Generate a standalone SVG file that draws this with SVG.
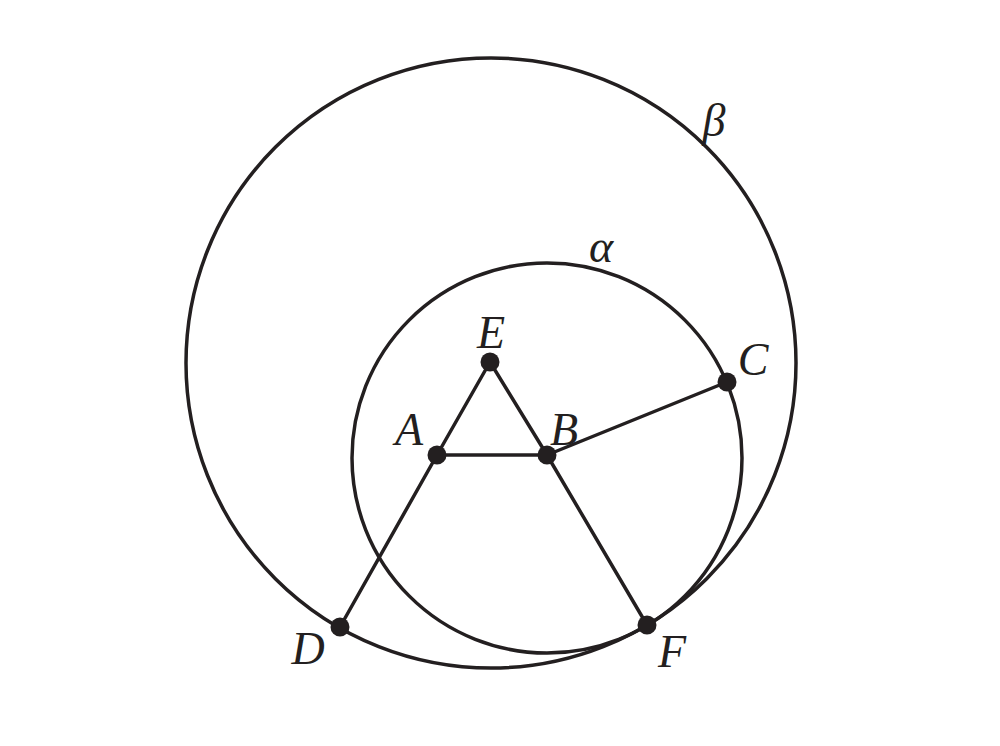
<svg xmlns="http://www.w3.org/2000/svg" width="1000" height="746" viewBox="0 0 1000 746">
<style>
.c{fill:none;stroke:#231f20;stroke-width:3.5}
.l{stroke:#231f20;stroke-width:3.5;stroke-linecap:round}
.p{fill:#231f20}
.t{font-family:"Liberation Serif",serif;font-style:italic;font-size:46px;fill:#231f20}
</style>
<rect width="1000" height="746" fill="#fff"/>
<g id="circles">
<circle id="beta" class="c" cx="491" cy="363" r="305"/>
<circle id="alpha" class="c" cx="547" cy="458" r="195"/>
</g>
<g id="connectors">
<line class="l" x1="437" y1="455" x2="490" y2="362"/>
<line class="l" x1="490" y1="362" x2="547" y2="455"/>
<line class="l" x1="437" y1="455" x2="547" y2="455"/>
<line class="l" x1="547" y1="455" x2="727" y2="382"/>
<line class="l" x1="437" y1="455" x2="340" y2="627"/>
<line class="l" x1="547" y1="455" x2="647" y2="625"/>
</g>
<g id="E"><circle class="p" cx="490" cy="362" r="9.5"/><text class="t" x="491" y="348" text-anchor="middle">E</text></g>
<g id="A"><circle class="p" cx="437" cy="455" r="9.5"/><text class="t" x="409" y="445" text-anchor="middle">A</text></g>
<g id="B"><circle class="p" cx="547" cy="455" r="9.5"/><text class="t" x="564" y="445" text-anchor="middle">B</text></g>
<g id="C"><circle class="p" cx="727" cy="382" r="9.5"/><text class="t" x="753" y="375" text-anchor="middle">C</text></g>
<g id="D"><circle class="p" cx="340" cy="627" r="9.5"/><text class="t" x="308" y="664" text-anchor="middle">D</text></g>
<g id="F"><circle class="p" cx="647" cy="625" r="9.5"/><text class="t" x="672" y="667" text-anchor="middle">F</text></g>
<g id="labels">
<text class="t" x="601" y="262" text-anchor="middle">α</text>
<text class="t" x="714" y="136" text-anchor="middle">β</text>
</g>
</svg>
